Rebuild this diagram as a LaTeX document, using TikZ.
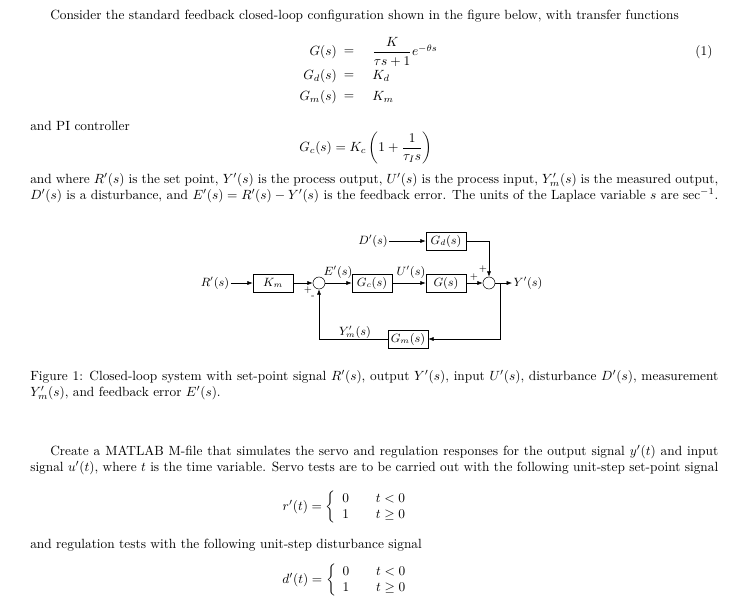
\documentclass[tikz,border=0pt]{standalone}
\usepackage{amsmath}
\usetikzlibrary{arrows.meta}
\begin{document}
\begin{tikzpicture}[x=0.75pt,y=-0.75pt,
  txt/.style={inner sep=0pt,font=\normalsize},
  par/.style={inner sep=0pt,anchor=north west,text width=516pt,align=justify},
  blk/.style={draw,minimum width=30pt,minimum height=13.5pt,inner sep=1pt,font=\small},
  sumc/.style={draw,circle,minimum size=9pt,inner sep=0pt},
  lab/.style={inner sep=1pt,font=\small},
  sg/.style={inner sep=0pt,font=\scriptsize},
  ar/.style={-{Latex[length=4pt,width=3pt]}}]
\useasboundingbox (0,0) rectangle (751,615);
\node[txt,anchor=west] (t1) at (50,16) {Consider the standard feedback closed-loop configuration shown in the figure below, with transfer functions};
\node[txt,anchor=east] (e1l) at (337,52) {$G(s)$};
\node[txt] (e1e) at (349,52) {$=$};
\node[txt,anchor=west] (e1r) at (372,52) {$\dfrac{K}{\tau s+1}e^{-\theta s}$};
\node[txt] (eqn) at (704,52) {(1)};
\node[txt,anchor=east] (e2l) at (337,76) {$G_d(s)$};
\node[txt] (e2e) at (349,76) {$=$};
\node[txt,anchor=west] (e2r) at (372,76) {$K_d$};
\node[txt,anchor=east] (e3l) at (337,97) {$G_m(s)$};
\node[txt] (e3e) at (349,97) {$=$};
\node[txt,anchor=west] (e3r) at (372,97) {$K_m$};
\node[txt,anchor=west] (pi) at (30,126) {and PI controller};
\node[txt] (gc) at (366,148) {$G_c(s)=K_c\left(1+\dfrac{1}{\tau_I s}\right)$};
\node[par] (p1) at (30,173) {and where $R'(s)$ is the set point, $Y'(s)$ is the process output, $U'(s)$ is the process input, $Y'_m(s)$ is the measured output, $D'(s)$ is a disturbance, and $E'(s)=R'(s)-Y'(s)$ is the feedback error. The units of the Laplace variable $s$ are sec$^{-1}$.};
% diagram
\node[lab] (R) at (215,283) {$R'(s)$};
\node[blk] (Km) at (273,283) {$K_m$};
\node[sumc] (s1) at (319,283) {};
\node[blk] (Gc) at (372,283) {$G_c(s)$};
\node[blk] (G) at (446,283) {$G(s)$};
\node[sumc] (s2) at (489,283) {};
\node[lab,anchor=west] (Y) at (512,283) {$Y'(s)$};
\node[blk] (Gd) at (446,241) {$G_d(s)$};
\node[lab] (D) at (373,241) {$D'(s)$};
\node[blk] (Gm) at (408,339) {$G_m(s)$};
\coordinate (br) at (500,283);
\node[lab] (E) at (338,272) {$E'(s)$};
\node[lab] (U) at (411,272) {$U'(s)$};
\node[lab] (Ym) at (355,332) {$Y'_m(s)$};
\node[sg] (p1s) at (308,290) {$+$};
\node[sg] (m1s) at (313,297) {-};
\node[sg] (p2s) at (474,277) {$+$};
\node[sg] (p3s) at (483,269) {$+$};
\draw[ar] (R) -- (Km);
\draw[ar] (Km) -- (s1);
\draw[ar] (s1) -- (Gc);
\draw[ar] (Gc) -- (G);
\draw[ar] (G) -- (s2);
\draw[ar] (s2) -- (Y);
\draw[ar] (D) -- (Gd);
\draw[ar] (Gd.east) -| (s2.north);
\draw[ar] (br) |- (Gm.east);
\draw[ar] (Gm.west) -| (s1.south);
% caption
\node[par] (cap) at (30,370) {Figure 1: Closed-loop system with set-point signal $R'(s)$, output $Y'(s)$, input $U'(s)$, disturbance $D'(s)$, measurement $Y'_m(s)$, and feedback error $E'(s)$.};
\node[par] (p2) at (30,445) {\hspace*{15pt}Create a MATLAB M-file that simulates the servo and regulation responses for the output signal $y'(t)$ and input signal $u'(t)$, where $t$ is the time variable. Servo tests are to be carried out with the following unit-step set-point signal};
\node[txt] (r) at (348,507) {$r'(t)=\left\{\begin{array}{lc}0 & \quad t<0\\ 1 & \quad t\ge 0\end{array}\right.$};
\node[txt,anchor=west] (p3) at (30,545) {and regulation tests with the following unit-step disturbance signal};
\node[txt] (d) at (348,580) {$d'(t)=\left\{\begin{array}{lc}0 & \quad t<0\\ 1 & \quad t\ge 0\end{array}\right.$};
\end{tikzpicture}
\end{document}
